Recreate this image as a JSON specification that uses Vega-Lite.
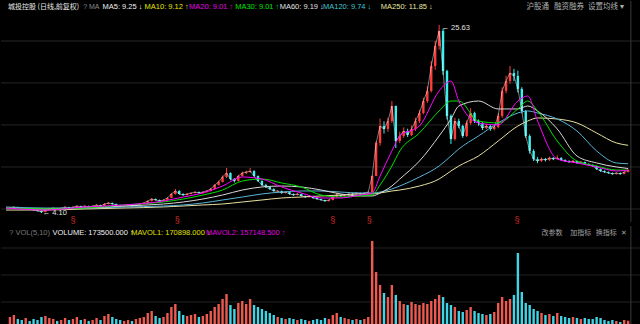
{
"$schema":"https://vega.github.io/schema/vega-lite/v6.json",
"background":"#000000",
"padding":0,
"spacing":0,
"config":{"view":{"stroke":null},"axis":{"disable":true},"text":{"font":"Liberation Sans, Noto Sans CJK SC"}},
"datasets":{
"k":[
{"i":1,"o":4.60,"h":4.75,"l":4.55,"c":4.67,"v":252000},
{"i":2,"o":4.67,"h":4.85,"l":4.62,"c":4.79,"v":294000},
{"i":3,"o":4.79,"h":4.82,"l":4.60,"c":4.67,"v":210000},
{"i":4,"o":4.67,"h":4.70,"l":4.50,"c":4.56,"v":189000},
{"i":5,"o":4.56,"h":4.74,"l":4.52,"c":4.67,"v":231000},
{"i":6,"o":4.67,"h":4.70,"l":4.50,"c":4.56,"v":168000},
{"i":7,"o":4.56,"h":4.60,"l":4.38,"c":4.44,"v":210000},
{"i":8,"o":4.44,"h":4.48,"l":4.28,"c":4.33,"v":189000},
{"i":9,"o":4.33,"h":4.36,"l":4.10,"c":4.21,"v":252000},
{"i":10,"o":4.21,"h":4.50,"l":4.18,"c":4.44,"v":273000},
{"i":11,"o":4.44,"h":4.62,"l":4.40,"c":4.56,"v":231000},
{"i":12,"o":4.56,"h":4.72,"l":4.52,"c":4.67,"v":210000},
{"i":13,"o":4.67,"h":4.70,"l":4.50,"c":4.56,"v":168000},
{"i":14,"o":4.56,"h":4.72,"l":4.52,"c":4.67,"v":189000},
{"i":15,"o":4.67,"h":4.85,"l":4.62,"c":4.79,"v":231000},
{"i":16,"o":4.79,"h":4.82,"l":4.62,"c":4.67,"v":189000},
{"i":17,"o":4.67,"h":4.84,"l":4.63,"c":4.79,"v":210000},
{"i":18,"o":4.79,"h":4.96,"l":4.74,"c":4.90,"v":252000},
{"i":19,"o":4.90,"h":4.94,"l":4.74,"c":4.79,"v":189000},
{"i":20,"o":4.79,"h":4.97,"l":4.75,"c":4.90,"v":210000},
{"i":21,"o":4.90,"h":4.95,"l":4.73,"c":4.79,"v":168000},
{"i":22,"o":4.79,"h":4.96,"l":4.75,"c":4.90,"v":189000},
{"i":23,"o":4.90,"h":5.08,"l":4.86,"c":5.02,"v":231000},
{"i":24,"o":5.02,"h":5.05,"l":4.85,"c":4.90,"v":189000},
{"i":25,"o":4.90,"h":5.22,"l":4.88,"c":5.13,"v":273000},
{"i":26,"o":5.13,"h":5.36,"l":5.08,"c":5.25,"v":315000},
{"i":27,"o":5.25,"h":5.30,"l":5.08,"c":5.13,"v":252000},
{"i":28,"o":5.13,"h":5.18,"l":4.96,"c":5.02,"v":210000},
{"i":29,"o":5.02,"h":5.06,"l":4.85,"c":4.90,"v":189000},
{"i":30,"o":4.88,"h":4.98,"l":4.82,"c":4.90,"v":168000},
{"i":31,"o":4.90,"h":5.08,"l":4.86,"c":5.02,"v":189000},
{"i":32,"o":5.02,"h":5.06,"l":4.85,"c":4.90,"v":168000},
{"i":33,"o":4.90,"h":5.08,"l":4.86,"c":5.02,"v":210000},
{"i":34,"o":5.02,"h":5.20,"l":4.98,"c":5.13,"v":231000},
{"i":35,"o":5.13,"h":5.32,"l":5.08,"c":5.25,"v":252000},
{"i":36,"o":5.25,"h":5.55,"l":5.20,"c":5.47,"v":336000},
{"i":37,"o":5.47,"h":5.82,"l":5.42,"c":5.70,"v":378000},
{"i":38,"o":5.70,"h":5.76,"l":5.52,"c":5.59,"v":273000},
{"i":39,"o":5.59,"h":5.64,"l":5.40,"c":5.47,"v":231000},
{"i":40,"o":5.47,"h":5.66,"l":5.42,"c":5.59,"v":252000},
{"i":41,"o":5.59,"h":5.90,"l":5.55,"c":5.82,"v":336000},
{"i":42,"o":5.82,"h":6.40,"l":5.78,"c":6.28,"v":462000},
{"i":43,"o":6.28,"h":6.85,"l":6.20,"c":6.62,"v":525000},
{"i":44,"o":6.62,"h":6.70,"l":6.20,"c":6.28,"v":378000},
{"i":45,"o":6.28,"h":6.35,"l":6.08,"c":6.16,"v":294000},
{"i":46,"o":6.16,"h":6.36,"l":6.10,"c":6.28,"v":273000},
{"i":47,"o":6.28,"h":6.46,"l":6.22,"c":6.39,"v":294000},
{"i":48,"o":6.39,"h":6.58,"l":6.33,"c":6.50,"v":315000},
{"i":49,"o":6.50,"h":6.56,"l":6.32,"c":6.39,"v":252000},
{"i":50,"o":6.39,"h":6.58,"l":6.33,"c":6.50,"v":273000},
{"i":51,"o":6.50,"h":6.70,"l":6.44,"c":6.62,"v":315000},
{"i":52,"o":6.62,"h":6.95,"l":6.56,"c":6.85,"v":378000},
{"i":53,"o":6.85,"h":7.42,"l":6.80,"c":7.31,"v":462000},
{"i":54,"o":7.31,"h":7.80,"l":7.25,"c":7.65,"v":525000},
{"i":55,"o":7.65,"h":8.40,"l":7.60,"c":8.22,"v":630000},
{"i":56,"o":8.22,"h":9.25,"l":8.10,"c":8.68,"v":735000},
{"i":57,"o":8.68,"h":8.75,"l":7.85,"c":7.99,"v":504000},
{"i":58,"o":7.99,"h":8.10,"l":7.60,"c":7.76,"v":420000},
{"i":59,"o":7.76,"h":8.45,"l":7.70,"c":8.34,"v":546000},
{"i":60,"o":8.34,"h":8.85,"l":8.28,"c":8.68,"v":588000},
{"i":61,"o":8.68,"h":8.95,"l":8.55,"c":8.79,"v":525000},
{"i":62,"o":8.79,"h":9.25,"l":8.70,"c":8.91,"v":630000},
{"i":63,"o":8.91,"h":9.00,"l":8.25,"c":8.34,"v":504000},
{"i":64,"o":8.34,"h":8.40,"l":7.65,"c":7.76,"v":462000},
{"i":65,"o":7.76,"h":7.85,"l":7.20,"c":7.31,"v":420000},
{"i":66,"o":7.31,"h":7.45,"l":6.98,"c":7.08,"v":378000},
{"i":67,"o":7.08,"h":7.15,"l":6.75,"c":6.85,"v":336000},
{"i":68,"o":6.85,"h":6.92,"l":6.55,"c":6.62,"v":294000},
{"i":69,"o":6.55,"h":6.72,"l":6.48,"c":6.62,"v":252000},
{"i":70,"o":6.62,"h":6.68,"l":6.32,"c":6.39,"v":231000},
{"i":71,"o":6.39,"h":6.58,"l":6.33,"c":6.50,"v":210000},
{"i":72,"o":6.50,"h":6.55,"l":6.20,"c":6.28,"v":231000},
{"i":73,"o":6.28,"h":6.33,"l":6.08,"c":6.16,"v":210000},
{"i":74,"o":6.16,"h":6.36,"l":6.10,"c":6.28,"v":189000},
{"i":75,"o":6.28,"h":6.32,"l":5.98,"c":6.05,"v":210000},
{"i":76,"o":6.05,"h":6.10,"l":5.86,"c":5.93,"v":189000},
{"i":77,"o":5.93,"h":6.12,"l":5.88,"c":6.05,"v":168000},
{"i":78,"o":6.05,"h":6.08,"l":5.75,"c":5.82,"v":189000},
{"i":79,"o":5.82,"h":5.86,"l":5.62,"c":5.70,"v":210000},
{"i":80,"o":5.70,"h":5.74,"l":5.52,"c":5.59,"v":189000},
{"i":81,"o":5.59,"h":5.62,"l":5.40,"c":5.47,"v":231000},
{"i":82,"o":5.47,"h":5.66,"l":5.42,"c":5.59,"v":210000},
{"i":83,"o":5.59,"h":6.02,"l":5.55,"c":5.93,"v":294000},
{"i":84,"o":5.93,"h":6.40,"l":5.88,"c":6.16,"v":336000},
{"i":85,"o":6.16,"h":6.20,"l":5.98,"c":6.05,"v":252000},
{"i":86,"o":6.05,"h":6.24,"l":6.00,"c":6.16,"v":231000},
{"i":87,"o":6.16,"h":6.34,"l":6.10,"c":6.28,"v":210000},
{"i":88,"o":6.30,"h":6.38,"l":6.20,"c":6.28,"v":189000},
{"i":89,"o":6.28,"h":6.45,"l":6.22,"c":6.39,"v":210000},
{"i":90,"o":6.39,"h":6.44,"l":6.20,"c":6.28,"v":189000},
{"i":91,"o":6.28,"h":6.46,"l":6.22,"c":6.39,"v":210000},
{"i":92,"o":6.39,"h":6.56,"l":6.34,"c":6.50,"v":252000},
{"i":93,"o":6.50,"h":8.40,"l":6.45,"c":8.34,"v":1848000},
{"i":94,"o":8.34,"h":12.30,"l":8.30,"c":12.12,"v":1197000},
{"i":95,"o":12.12,"h":14.90,"l":11.80,"c":14.06,"v":924000},
{"i":96,"o":14.06,"h":14.60,"l":13.20,"c":13.72,"v":756000},
{"i":97,"o":13.72,"h":15.00,"l":13.40,"c":14.63,"v":672000},
{"i":98,"o":14.63,"h":16.92,"l":14.40,"c":16.35,"v":924000},
{"i":99,"o":16.35,"h":16.40,"l":11.54,"c":12.34,"v":714000},
{"i":100,"o":12.34,"h":13.40,"l":12.10,"c":12.92,"v":588000},
{"i":101,"o":12.92,"h":13.90,"l":12.70,"c":13.49,"v":525000},
{"i":102,"o":13.49,"h":13.75,"l":12.80,"c":13.03,"v":504000},
{"i":103,"o":13.03,"h":14.10,"l":12.90,"c":13.72,"v":567000},
{"i":104,"o":13.72,"h":15.00,"l":13.50,"c":14.63,"v":525000},
{"i":105,"o":14.63,"h":15.90,"l":14.40,"c":15.55,"v":504000},
{"i":106,"o":15.55,"h":17.30,"l":15.40,"c":16.92,"v":546000},
{"i":107,"o":16.92,"h":18.60,"l":16.70,"c":18.07,"v":525000},
{"i":108,"o":18.07,"h":21.50,"l":17.90,"c":20.93,"v":588000},
{"i":109,"o":20.93,"h":23.80,"l":20.50,"c":23.22,"v":630000},
{"i":110,"o":23.22,"h":25.63,"l":22.80,"c":24.94,"v":714000},
{"i":111,"o":24.94,"h":25.20,"l":19.90,"c":20.36,"v":672000},
{"i":112,"o":20.36,"h":20.50,"l":14.80,"c":15.21,"v":546000},
{"i":113,"o":15.21,"h":15.40,"l":12.00,"c":12.57,"v":504000},
{"i":114,"o":12.57,"h":15.00,"l":12.40,"c":14.63,"v":462000},
{"i":115,"o":14.63,"h":14.90,"l":13.80,"c":14.06,"v":378000},
{"i":116,"o":14.06,"h":14.20,"l":12.70,"c":12.92,"v":357000},
{"i":117,"o":12.92,"h":14.70,"l":12.80,"c":14.41,"v":399000},
{"i":118,"o":14.41,"h":16.10,"l":14.20,"c":15.55,"v":462000},
{"i":119,"o":15.55,"h":15.70,"l":14.40,"c":14.63,"v":378000},
{"i":120,"o":14.63,"h":14.80,"l":14.10,"c":14.41,"v":336000},
{"i":121,"o":14.41,"h":14.50,"l":13.60,"c":13.83,"v":315000},
{"i":122,"o":13.83,"h":14.30,"l":13.70,"c":14.06,"v":294000},
{"i":123,"o":14.06,"h":14.20,"l":13.50,"c":13.72,"v":315000},
{"i":124,"o":13.72,"h":14.20,"l":13.55,"c":13.95,"v":357000},
{"i":125,"o":13.95,"h":15.50,"l":13.80,"c":15.21,"v":546000},
{"i":126,"o":15.21,"h":18.50,"l":15.00,"c":18.07,"v":672000},
{"i":127,"o":18.07,"h":19.80,"l":17.80,"c":19.21,"v":588000},
{"i":128,"o":19.21,"h":20.93,"l":18.90,"c":20.13,"v":630000},
{"i":129,"o":20.13,"h":20.60,"l":19.20,"c":19.79,"v":714000},
{"i":130,"o":19.79,"h":20.40,"l":17.90,"c":18.30,"v":1596000},
{"i":131,"o":18.30,"h":18.50,"l":15.50,"c":15.78,"v":777000},
{"i":132,"o":15.78,"h":15.90,"l":12.70,"c":12.92,"v":546000},
{"i":133,"o":12.92,"h":13.10,"l":10.90,"c":11.20,"v":504000},
{"i":134,"o":11.20,"h":11.40,"l":10.05,"c":10.28,"v":420000},
{"i":135,"o":10.28,"h":10.50,"l":9.80,"c":10.05,"v":378000},
{"i":136,"o":10.05,"h":10.45,"l":9.95,"c":10.28,"v":336000},
{"i":137,"o":10.28,"h":10.40,"l":10.00,"c":10.17,"v":294000},
{"i":138,"o":10.17,"h":10.55,"l":10.05,"c":10.40,"v":315000},
{"i":139,"o":10.40,"h":10.50,"l":10.15,"c":10.28,"v":273000},
{"i":140,"o":10.28,"h":10.70,"l":10.20,"c":10.40,"v":336000},
{"i":141,"o":10.40,"h":10.50,"l":10.05,"c":10.17,"v":273000},
{"i":142,"o":10.17,"h":10.25,"l":9.95,"c":10.05,"v":252000},
{"i":143,"o":10.05,"h":10.15,"l":9.85,"c":9.94,"v":231000},
{"i":144,"o":9.94,"h":10.15,"l":9.85,"c":10.05,"v":252000},
{"i":145,"o":10.05,"h":10.10,"l":9.75,"c":9.83,"v":231000},
{"i":146,"o":9.83,"h":10.05,"l":9.75,"c":9.94,"v":210000},
{"i":147,"o":9.94,"h":9.98,"l":9.62,"c":9.71,"v":231000},
{"i":148,"o":9.71,"h":9.78,"l":9.52,"c":9.60,"v":210000},
{"i":149,"o":9.60,"h":9.66,"l":9.40,"c":9.48,"v":210000},
{"i":150,"o":9.48,"h":9.55,"l":9.05,"c":9.14,"v":252000},
{"i":151,"o":9.14,"h":9.20,"l":8.82,"c":8.91,"v":231000},
{"i":152,"o":8.91,"h":8.98,"l":8.70,"c":8.79,"v":189000},
{"i":153,"o":8.79,"h":8.85,"l":8.60,"c":8.68,"v":168000},
{"i":154,"o":8.68,"h":8.75,"l":8.48,"c":8.57,"v":189000},
{"i":155,"o":8.57,"h":8.76,"l":8.50,"c":8.68,"v":168000},
{"i":156,"o":8.68,"h":8.74,"l":8.48,"c":8.57,"v":147000},
{"i":157,"o":8.57,"h":8.86,"l":8.52,"c":8.79,"v":189000},
{"i":158,"o":8.79,"h":9.10,"l":8.74,"c":9.02,"v":173500}
],
"ma":[
{"i":0,"ma20":4.67,"ma30":4.67,"ma60":4.67,"ma120":4.79,"ma250":4.44},
{"i":10,"ma20":4.44,"ma30":4.56,"ma60":4.56,"ma120":4.67,"ma250":4.44},
{"i":20,"ma20":4.79,"ma30":4.67,"ma60":4.67,"ma120":4.67,"ma250":4.56},
{"i":30,"ma20":5.02,"ma30":5.02,"ma60":4.90,"ma120":4.79,"ma250":4.67},
{"i":40,"ma20":5.47,"ma30":5.36,"ma60":5.13,"ma120":4.90,"ma250":4.79},
{"i":45,"ma20":5.93,"ma30":5.70,"ma60":5.36,"ma120":5.02,"ma250":4.90},
{"i":50,"ma20":6.39,"ma30":6.16,"ma60":5.70,"ma120":5.25,"ma250":5.02},
{"i":55,"ma20":7.19,"ma30":6.73,"ma60":6.16,"ma120":5.59,"ma250":5.13},
{"i":60,"ma20":8.22,"ma30":7.76,"ma60":6.73,"ma120":5.93,"ma250":5.36},
{"i":65,"ma20":7.99,"ma30":7.99,"ma60":7.08,"ma120":6.28,"ma250":5.59},
{"i":70,"ma20":7.08,"ma30":7.54,"ma60":7.19,"ma120":6.50,"ma250":5.82},
{"i":75,"ma20":6.39,"ma30":7.08,"ma60":7.08,"ma120":6.62,"ma250":5.93},
{"i":80,"ma20":5.82,"ma30":6.16,"ma60":6.73,"ma120":6.62,"ma250":6.05},
{"i":85,"ma20":5.82,"ma30":5.93,"ma60":6.28,"ma120":6.50,"ma250":6.16},
{"i":90,"ma20":6.16,"ma30":6.05,"ma60":6.05,"ma120":6.39,"ma250":6.28},
{"i":93,"ma20":6.39,"ma30":6.16,"ma60":6.05,"ma120":6.39,"ma250":6.28},
{"i":95,"ma20":8.34,"ma30":7.31,"ma60":6.39,"ma120":6.50,"ma250":6.39},
{"i":98,"ma20":11.20,"ma30":9.48,"ma60":7.19,"ma120":6.85,"ma250":6.62},
{"i":100,"ma20":12.92,"ma30":11.20,"ma60":7.99,"ma120":7.19,"ma250":6.73},
{"i":105,"ma20":14.06,"ma30":13.26,"ma60":10.05,"ma120":8.22,"ma250":7.19},
{"i":110,"ma20":18.07,"ma30":15.78,"ma60":12.92,"ma120":9.48,"ma250":7.99},
{"i":113,"ma20":19.21,"ma30":16.92,"ma60":14.86,"ma120":10.63,"ma250":8.91},
{"i":115,"ma20":16.92,"ma30":16.92,"ma60":16.35,"ma120":11.43,"ma250":9.48},
{"i":120,"ma20":14.41,"ma30":14.63,"ma60":16.92,"ma120":12.92,"ma250":10.63},
{"i":125,"ma20":14.18,"ma30":14.41,"ma60":16.01,"ma120":14.41,"ma250":12.34},
{"i":130,"ma20":16.92,"ma30":16.01,"ma60":16.01,"ma120":15.55,"ma250":14.06},
{"i":132.5,"ma20":17.50,"ma30":16.92,"ma60":16.35,"ma120":15.78,"ma250":14.63},
{"i":135,"ma20":14.63,"ma30":15.78,"ma60":15.78,"ma120":15.55,"ma250":14.98},
{"i":140,"ma20":10.28,"ma30":12.34,"ma60":13.72,"ma120":14.86,"ma250":14.86},
{"i":145,"ma20":9.83,"ma30":10.05,"ma60":10.63,"ma120":13.49,"ma250":14.41},
{"i":150,"ma20":9.37,"ma30":9.48,"ma60":9.83,"ma120":11.20,"ma250":13.26},
{"i":155,"ma20":8.91,"ma30":9.02,"ma60":9.37,"ma120":9.83,"ma250":12.12},
{"i":158,"ma20":9.01,"ma30":9.01,"ma60":9.19,"ma120":9.74,"ma250":11.85}
],
"sig":[{"i":17},{"i":43.5},{"i":83},{"i":92.25},{"i":129.75}],
"g1":[{"p":4.56},{"p":9.37},{"p":14.18},{"p":18.99},{"p":23.79}],
"g2":[{"q":567000},{"q":1134000},{"q":1701000}],
"one":[{}]
},
"vconcat":[
{
"width":640,"height":221,
"layer":[
{"data":{"name":"g1"},"mark":{"type":"rule","color":"#262626","strokeWidth":1},
 "encoding":{"y":{"field":"p","type":"quantitative","scale":{"domain":[3.07,28.37],"nice":false,"zero":false},"axis":null}}},
{"data":{"name":"one"},"mark":{"type":"rule","color":"#3a3a3a","strokeWidth":1},
 "encoding":{"x":{"datum":158.7,"type":"quantitative","scale":{"domain":[0,160],"nice":false,"zero":false},"axis":null}}},
{"data":{"name":"k"},"mark":{"type":"rule","strokeWidth":1},
 "encoding":{"x":{"field":"i","type":"quantitative"},"y":{"field":"l","type":"quantitative"},"y2":{"field":"h"},
 "color":{"condition":{"test":"datum.c >= datum.o","value":"#ff3c3c"},"value":"#3cf0f0"}}},
{"data":{"name":"k"},"mark":{"type":"bar","width":2.4},
 "encoding":{"x":{"field":"i","type":"quantitative"},"y":{"field":"o","type":"quantitative"},"y2":{"field":"c"},
 "color":{"condition":{"test":"datum.c >= datum.o","value":"#ff3c3c"},"value":"#3cf0f0"}}},
{"data":{"name":"k"},"mark":{"type":"line","color":"#ffffff","strokeWidth":0.8,"opacity":0.6},
 "encoding":{"x":{"field":"i","type":"quantitative"},"y":{"field":"c","type":"quantitative"}}},
{"data":{"name":"ma"},"mark":{"type":"line","color":"#e8e0a0","strokeWidth":1,"interpolate":"monotone"},
 "encoding":{"x":{"field":"i","type":"quantitative"},"y":{"field":"ma250","type":"quantitative"}}},
{"data":{"name":"ma"},"mark":{"type":"line","color":"#5ab4d8","strokeWidth":1,"interpolate":"monotone"},
 "encoding":{"x":{"field":"i","type":"quantitative"},"y":{"field":"ma120","type":"quantitative"}}},
{"data":{"name":"ma"},"mark":{"type":"line","color":"#d8d8d8","strokeWidth":1,"interpolate":"monotone"},
 "encoding":{"x":{"field":"i","type":"quantitative"},"y":{"field":"ma60","type":"quantitative"}}},
{"data":{"name":"ma"},"mark":{"type":"line","color":"#00e000","strokeWidth":1,"interpolate":"monotone"},
 "encoding":{"x":{"field":"i","type":"quantitative"},"y":{"field":"ma30","type":"quantitative"}}},
{"data":{"name":"ma"},"mark":{"type":"line","color":"#ff00ff","strokeWidth":1,"interpolate":"monotone"},
 "encoding":{"x":{"field":"i","type":"quantitative"},"y":{"field":"ma20","type":"quantitative"}}},
{"data":{"name":"sig"},"mark":{"type":"text","text":"§","color":"#d02828","fontSize":9,"baseline":"middle"},
 "encoding":{"x":{"field":"i","type":"quantitative"},"y":{"datum":3.35,"type":"quantitative"}}},
{"data":{"name":"one"},"mark":{"type":"text","text":"← 25.63","color":"#e0e0e0","fontSize":7.5,"align":"left","baseline":"middle"},
 "encoding":{"x":{"datum":110.6,"type":"quantitative"},"y":{"datum":25.3,"type":"quantitative"}}},
{"data":{"name":"one"},"mark":{"type":"text","text":"← 4.10","color":"#e0e0e0","fontSize":7.5,"align":"left","baseline":"middle"},
 "encoding":{"x":{"datum":9.3,"type":"quantitative"},"y":{"datum":4.10,"type":"quantitative"}}},
{"data":{"name":"one"},"mark":{"type":"text","text":"城投控股 (日线,前复权)","color":"#e8e8e8","fontSize":7,"align":"left","baseline":"middle","font":"Noto Sans CJK SC"},
 "encoding":{"x":{"datum":0.5,"type":"quantitative"},"y":{"datum":27.69,"type":"quantitative"}}},
{"data":{"name":"one"},"mark":{"type":"text","text":"? MA","color":"#8a8a8a","fontSize":7,"align":"left","baseline":"middle"},
 "encoding":{"x":{"datum":19.6,"type":"quantitative"},"y":{"datum":27.69,"type":"quantitative"}}},
{"data":{"name":"one"},"mark":{"type":"text","text":"MA5: 9.25 ↓","color":"#f0f0f0","fontSize":7.5,"align":"left","baseline":"middle"},
 "encoding":{"x":{"datum":24.5,"type":"quantitative"},"y":{"datum":27.69,"type":"quantitative"}}},
{"data":{"name":"one"},"mark":{"type":"text","text":"MA10: 9.12 ↑","color":"#e6e600","fontSize":7.5,"align":"left","baseline":"middle"},
 "encoding":{"x":{"datum":35.2,"type":"quantitative"},"y":{"datum":27.69,"type":"quantitative"}}},
{"data":{"name":"one"},"mark":{"type":"text","text":"MA20: 9.01 ↑","color":"#e600e6","fontSize":7.5,"align":"left","baseline":"middle"},
 "encoding":{"x":{"datum":46.5,"type":"quantitative"},"y":{"datum":27.69,"type":"quantitative"}}},
{"data":{"name":"one"},"mark":{"type":"text","text":"MA30: 9.01 ↑","color":"#00e000","fontSize":7.5,"align":"left","baseline":"middle"},
 "encoding":{"x":{"datum":58.2,"type":"quantitative"},"y":{"datum":27.69,"type":"quantitative"}}},
{"data":{"name":"one"},"mark":{"type":"text","text":"MA60: 9.19 ↓","color":"#e0e0e0","fontSize":7.5,"align":"left","baseline":"middle"},
 "encoding":{"x":{"datum":69.5,"type":"quantitative"},"y":{"datum":27.69,"type":"quantitative"}}},
{"data":{"name":"one"},"mark":{"type":"text","text":"MA120: 9.74 ↓","color":"#3cc8d0","fontSize":7.5,"align":"left","baseline":"middle"},
 "encoding":{"x":{"datum":80.5,"type":"quantitative"},"y":{"datum":27.69,"type":"quantitative"}}},
{"data":{"name":"one"},"mark":{"type":"text","text":"MA250: 11.85 ↓","color":"#e8e8a0","fontSize":7.5,"align":"left","baseline":"middle"},
 "encoding":{"x":{"datum":95.2,"type":"quantitative"},"y":{"datum":27.69,"type":"quantitative"}}},
{"data":{"name":"one"},"mark":{"type":"text","text":"沪股通","color":"#b0b0b0","fontSize":7.5,"align":"left","baseline":"middle","font":"Noto Sans CJK SC"},
 "encoding":{"x":{"datum":132.2,"type":"quantitative"},"y":{"datum":27.69,"type":"quantitative"}}},
{"data":{"name":"one"},"mark":{"type":"text","text":"融资融券","color":"#b0b0b0","fontSize":7.5,"align":"left","baseline":"middle","font":"Noto Sans CJK SC"},
 "encoding":{"x":{"datum":139.2,"type":"quantitative"},"y":{"datum":27.69,"type":"quantitative"}}},
{"data":{"name":"one"},"mark":{"type":"text","text":"设置均线 ▾","color":"#b0b0b0","fontSize":7.5,"align":"left","baseline":"middle","font":"Noto Sans CJK SC"},
 "encoding":{"x":{"datum":147.8,"type":"quantitative"},"y":{"datum":27.69,"type":"quantitative"}}}
]
},
{
"width":640,"height":103,
"layer":[
{"data":{"name":"g2"},"mark":{"type":"rule","color":"#222222","strokeWidth":1},
 "encoding":{"y":{"field":"q","type":"quantitative","scale":{"domain":[0,2163000],"nice":false,"zero":true},"axis":null}}},
{"data":{"name":"one"},"mark":{"type":"rule","color":"#3a3a3a","strokeWidth":1},
 "encoding":{"x":{"datum":158.7,"type":"quantitative","scale":{"domain":[0,160],"nice":false,"zero":false},"axis":null}}},
{"data":{"name":"k"},"mark":{"type":"bar","width":2.4},
 "encoding":{"x":{"field":"i","type":"quantitative"},"y":{"field":"v","type":"quantitative"},
 "color":{"condition":{"test":"datum.c >= datum.o","value":"#ee5a50"},"value":"#40d4e4"}}},
{"data":{"name":"one"},"mark":{"type":"text","text":"? VOL(5,10)","color":"#7a7a7a","fontSize":7.5,"align":"left","baseline":"middle"},
 "encoding":{"x":{"datum":0.8,"type":"quantitative"},"y":{"datum":2016000,"type":"quantitative"}}},
{"data":{"name":"one"},"mark":{"type":"text","text":"VOLUME: 173500.000 ↑","color":"#f0f0f0","fontSize":7.5,"align":"left","baseline":"middle"},
 "encoding":{"x":{"datum":11.8,"type":"quantitative"},"y":{"datum":2016000,"type":"quantitative"}}},
{"data":{"name":"one"},"mark":{"type":"text","text":"MAVOL1: 170898.000 ↓","color":"#e0e000","fontSize":7.5,"align":"left","baseline":"middle"},
 "encoding":{"x":{"datum":31.8,"type":"quantitative"},"y":{"datum":2016000,"type":"quantitative"}}},
{"data":{"name":"one"},"mark":{"type":"text","text":"MAVOL2: 157148.500 ↑","color":"#e000e0","fontSize":7.5,"align":"left","baseline":"middle"},
 "encoding":{"x":{"datum":50.8,"type":"quantitative"},"y":{"datum":2016000,"type":"quantitative"}}},
{"data":{"name":"one"},"mark":{"type":"text","text":"改参数","color":"#a0a0a0","fontSize":7,"align":"left","baseline":"middle","font":"Noto Sans CJK SC"},
 "encoding":{"x":{"datum":136,"type":"quantitative"},"y":{"datum":2016000,"type":"quantitative"}}},
{"data":{"name":"one"},"mark":{"type":"text","text":"加指标","color":"#a0a0a0","fontSize":7,"align":"left","baseline":"middle","font":"Noto Sans CJK SC"},
 "encoding":{"x":{"datum":143.3,"type":"quantitative"},"y":{"datum":2016000,"type":"quantitative"}}},
{"data":{"name":"one"},"mark":{"type":"text","text":"换指标","color":"#a0a0a0","fontSize":7,"align":"left","baseline":"middle","font":"Noto Sans CJK SC"},
 "encoding":{"x":{"datum":149.8,"type":"quantitative"},"y":{"datum":2016000,"type":"quantitative"}}},
{"data":{"name":"one"},"mark":{"type":"text","text":"✕","color":"#a0a0a0","fontSize":7,"align":"left","baseline":"middle"},
 "encoding":{"x":{"datum":156.3,"type":"quantitative"},"y":{"datum":2016000,"type":"quantitative"}}}
]
}
]
}
